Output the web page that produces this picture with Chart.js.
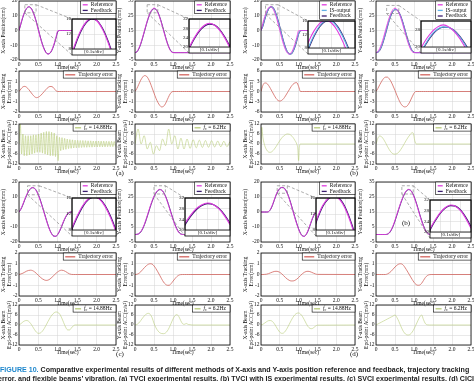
<!DOCTYPE html>
<html>
<head>
<meta charset="utf-8">
<script src="https://cdn.jsdelivr.net/npm/chart.js"></script>
<style>
  body { margin: 0; background: #fff; }
  #fig { position: relative; width: 474px; height: 381px; overflow: hidden; background: #fff; }
  #fig canvas { position: absolute; }
  .plab { position: absolute; width: 20px; text-align: center; font: 7px "Liberation Serif", serif; color: #111; }
  .cap { position: absolute; left: 0; white-space: nowrap; font: bold 8px "Liberation Sans", sans-serif; color: #222; transform-origin: 0 0; }
  .cap b { color: #1d86cc; }
</style>
</head>
<body>
<div id="fig"></div>

<script>
// ---- data ----
const tGrid = [0,0.05,0.1,0.15,0.2,0.25,0.3,0.35,0.4,0.45,0.5,0.55,0.6,0.65,0.7,0.75,0.8,0.85,0.9,0.95,1.0,1.05,1.1,1.15,1.2,1.25,1.3,1.35,1.4,1.45,1.5,2.5];

// (a) TVCI
const aXRef = [0,5.0,9.5,13.0,15.3,16.2,15.4,13.1,9.6,5.1,0.1,-4.9,-9.4,-12.9,-15.2,-16.0,-15.2,-12.9,-9.4,-4.9,-0.2,0,0,0,0,0,0,0,0,0,0,0];
const aXFb  = [0,4.5,9.0,12.6,15.0,16.0,15.5,13.4,10.0,5.7,0.7,-4.4,-8.9,-12.5,-15.0,-15.9,-15.4,-13.3,-9.9,-5.5,-0.8,0,0,0,0,0,0,0,0,0,0,0];
const aYRef = [0,0.7,2.9,6.2,10.4,15.0,19.6,23.8,27.1,29.3,30.2,29.3,27.1,23.8,19.6,15.0,10.4,6.2,2.9,0.7,0,0,0,0,0,0,0,0,0,0,0,0];
const aYFb  = [0,0.5,2.5,5.7,9.9,14.5,19.1,23.3,26.7,28.9,29.8,29.4,27.5,24.3,20.2,15.6,11.0,6.7,3.3,1.0,0.1,0,0,0,0,0,0,0,0,0,0,0];
const aXErr = [0,0.25,0.45,0.5,0.4,0.2,-0.05,-0.3,-0.5,-0.6,-0.55,-0.42,-0.22,0,0.22,0.4,0.49,0.48,0.32,0.08,0,0,0,0,0,0,0,0,0,0,0,0];
const aYErr = [0,0.3,0.7,1.1,1.4,1.55,1.5,1.25,0.85,0.35,-0.15,-0.65,-1.05,-1.35,-1.5,-1.45,-1.2,-0.8,-0.4,-0.1,0,0,0,0,0,0,0,0,0,0,0,0];
const aXBeamDt = 0.0336;   // half period of 14.88 Hz
const aXBeam = [0,12,-6,6,-7,5,-7,5,-6.5,5,-6,5.5,-5.5,5.5,-5,6,-5,6.5,-5.5,7,-6,7.5,-6.5,7.5,-7,7,-7,6.5,-7.5,5,
  -10,4,-4,3.8,-3.5,3.4,-3.2,3,-2.8,2.7,-2.6,2.5,-2.4,2.3,-2.3,2.2,-2.2,2.1,-2.1,2.1,-2.0,2.0,-2.0,1.9,-1.9,
  1.9,-1.9,1.8,-1.8,1.8,-1.8,1.8,-1.7,1.7,-1.7,1.7,-1.7,1.6,-1.6,1.6,-1.6,1.6,-1.6,1.5,-1.5];
const aYBeamDt = 0.0806;   // half period of 6.2 Hz
const aYBeam = [0,9,0,5,-3,1,-6,-1,-4,3,-1,9,0,5,-3,3.5,-3,3,-2.6,2.6,-2.3,2.3,-2.1,2.1,-2,2,-1.8,1.8,-1.7,1.7,-1.6,1.5];

// (b) TVCI with IS
const bXRef = [0,5.0,9.5,13.0,15.3,16.2,15.4,13.1,9.6,5.1,0.1,-4.9,-9.4,-12.9,-15.2,-16.0,-15.2,-12.9,-9.4,-4.9,-0.2,0,0,0,0,0,0,0,0,0,0,0];
const bXIs  = [0,3.2,7.8,11.7,14.6,16.0,15.9,14.2,11.1,7.0,2.2,-2.8,-7.6,-11.6,-14.5,-15.9,-15.9,-14.2,-11.1,-6.9,-2.3,-0.1,0,0,0,0,0,0,0,0,0,0];
const bXFb  = [0,2.8,7.3,11.3,14.3,15.9,16.0,14.5,11.5,7.5,2.7,-2.4,-7.2,-11.2,-14.3,-15.8,-16.0,-14.5,-11.5,-7.3,-2.6,-0.2,0,0,0,0,0,0,0,0,0,0];
const bYRef = [0,0.7,2.9,6.2,10.4,15.0,19.6,23.8,27.1,29.3,30.2,29.3,27.1,23.8,19.6,15.0,10.4,6.2,2.9,0.7,0,0,0,0,0,0,0,0,0,0,0,0];
const bYIs  = [0,0.3,1.8,4.6,8.5,13.0,17.8,22.2,25.9,28.3,29.3,29.0,27.4,24.6,20.8,16.4,11.7,7.3,3.8,1.3,0.2,0,0,0,0,0,0,0,0,0,0,0];
const bYFb  = [0,0.2,1.5,4.2,8.0,12.5,17.3,21.8,25.5,28.0,29.1,29.0,27.6,24.9,21.2,16.8,12.2,7.8,4.2,1.5,0.3,0,0,0,0,0,0,0,0,0,0,0];
const bXErr = [0,1.8,2.5,2.4,1.8,0.9,-0.1,-1.1,-2.0,-2.6,-2.8,-2.6,-2.1,-1.3,-0.4,0.5,1.4,2.1,2.5,2.6,1.5,0,0,0,0,0,0,0,0,0,0,0];
const bYErr = [0,0.9,2.0,3.0,3.8,4.2,4.2,3.7,2.8,1.6,0.3,-1.1,-2.4,-3.5,-4.2,-4.5,-4.4,-3.8,-2.8,-1.6,-0.5,0,0,0,0,0,0,0,0,0,0,0];
const bXBeamT = [0,0.02,0.05,0.1,0.15,0.2,0.25,0.3,0.35,0.4,0.45,0.5,0.55,0.6,0.65,0.7,0.75,0.8,0.85,0.9,0.95,0.98,1.0,1.02,1.05,2.5];
const bXBeam  = [0,10,4,-1,-3.5,-4.8,-5,-4.4,-3.2,-1.6,0.2,2,3.6,4.8,5.6,6,5.9,5.2,4,2.2,0,-3,-10,-2,0,0];
const bYBeamT = [0,0.05,0.1,0.15,0.2,0.25,0.3,0.35,0.4,0.45,0.5,0.55,0.6,0.65,0.7,0.75,0.8,0.85,0.9,0.95,0.98,1.02,1.06,2.5];
const bYBeam  = [0,3.5,4.8,4.3,2.8,0.8,-1.4,-3.4,-5,-5.9,-6.1,-5.8,-4.9,-3.4,-1.6,0.4,2.4,4.2,5.7,6.8,6.5,2,0,0];

// (c) SVCI
const cXRef = [0,2.2,5.2,8.6,11.7,14.2,15.8,16.3,15.7,13.9,11.1,7.5,3.4,-0.9,-5.2,-9.2,-12.6,-15.0,-16.2,-16.1,-14.7,-12.3,-9.2,-6.0,-3.2,-1.2,-0.2,0,0,0,0,0];
const cXFb  = [0,1.9,4.8,8.2,11.3,13.9,15.6,16.2,15.8,14.2,11.5,8.0,3.9,-0.4,-4.7,-8.8,-12.3,-14.8,-16.1,-16.2,-14.9,-12.6,-9.6,-6.4,-3.6,-1.5,-0.3,0,0,0,0,0];
const cYRef = [0,0.1,0.6,1.9,4.1,7.1,10.8,14.8,18.8,22.5,25.6,28.0,29.5,30.1,29.6,28.0,25.4,22.0,18.0,13.9,9.9,6.3,3.4,1.4,0.3,0,0,0,0,0,0,0];
const cYFb  = [0,0.1,0.5,1.6,3.7,6.6,10.2,14.2,18.2,21.9,25.1,27.6,29.2,29.9,29.6,28.2,25.8,22.5,18.6,14.5,10.5,6.9,3.9,1.7,0.5,0.1,0,0,0,0,0,0];
const cXErr = [0,0.05,0.12,0.22,0.32,0.38,0.4,0.36,0.25,0.1,-0.08,-0.25,-0.4,-0.5,-0.55,-0.52,-0.42,-0.26,-0.08,0.1,0.25,0.36,0.4,0.37,0.28,0.16,0.06,0.01,0,0,0,0];
const cYErr = [0,0.02,0.1,0.25,0.45,0.65,0.82,0.95,1.0,0.97,0.8,0.55,0.25,-0.07,-0.4,-0.7,-0.9,-1.0,-1.0,-0.85,-0.62,-0.4,-0.2,-0.07,-0.01,0,0,0,0,0,0,0];
const cXBeam = [0,0.8,1.8,2.5,2.7,2.2,0.9,-0.9,-2.8,-4.3,-5.0,-4.8,-3.8,-2.1,0,2.2,4.3,6.0,7.2,7.8,7.6,6.5,4.3,1.5,-1.2,-2.9,-3.0,-1.8,-0.5,0,0,0];
const cYBeam = [0,0.3,1.2,2.6,4.2,5.6,6.6,7.0,6.4,4.4,1.0,-1.6,-3.4,-4.6,-5.1,-5.2,-4.8,-3.6,-1.6,1.0,3.6,5.5,6.2,5.2,2.8,0.8,0.4,0.9,0.3,0.2,0,0];

// (d) CICI
const dXRef = [0,0,0,0,0.3,1.8,4.5,8.0,11.5,14.2,15.8,16.4,16.1,14.7,12.2,8.8,4.8,0.5,-3.9,-8.0,-11.6,-14.4,-16.0,-16.2,-14.9,-12.3,-8.8,-5.2,-2.2,-0.5,0,0];
const dXFb  = [0,0,0,0,0.2,1.5,4.1,7.6,11.1,13.9,15.6,16.3,16.2,15.0,12.6,9.3,5.3,1.0,-3.4,-7.5,-11.2,-14.1,-15.8,-16.2,-15.1,-12.7,-9.3,-5.7,-2.6,-0.7,-0.1,0];
const dYRef = [0,0,0,0,0,0,0.3,1.3,3.2,6.0,9.5,13.4,17.4,21.2,24.5,27.3,29.2,30.1,29.6,27.9,25.0,21.4,17.3,13.0,8.9,5.3,2.6,0.9,0.1,0,0,0];
const dYFb  = [0,0,0,0,0,0,0.2,1.0,2.8,5.5,9.0,12.9,16.9,20.7,24.1,27.0,29.0,29.9,29.7,28.2,25.5,22.0,17.9,13.6,9.5,5.9,3.0,1.1,0.2,0,0,0];
const dXErr = [0,0,0.01,0.03,0.08,0.15,0.22,0.28,0.3,0.28,0.2,0.07,-0.1,-0.28,-0.43,-0.54,-0.6,-0.6,-0.55,-0.44,-0.28,-0.1,0.07,0.2,0.28,0.3,0.27,0.2,0.12,0.05,0.01,0];
const dYErr = [0,0,0,0,0,0,0.05,0.15,0.3,0.5,0.7,0.86,0.97,1.0,0.93,0.72,0.45,0.15,-0.15,-0.45,-0.72,-0.92,-1.0,-0.98,-0.82,-0.55,-0.28,-0.1,-0.02,0,0,0];
const dXBeam = [0,0.4,1.2,2.0,2.6,2.7,2.2,0.9,-0.9,-2.8,-4.3,-5.0,-4.8,-3.6,-1.8,0.4,2.6,4.6,6.1,7.0,7.2,6.6,5.2,3.2,1.0,-0.9,-2.0,-2.2,-1.6,-0.7,-0.1,0];
const dYBeam = [0,0.6,1.2,1.8,2.4,3.0,3.6,4.2,4.8,5.4,6.0,4.5,2.2,-0.5,-3.0,-4.8,-5.8,-6.0,-5.6,-4.3,-2.4,0,2.5,4.8,6.0,3.2,0.8,0.1,0,0,0,0];

const timeTicks = [0, 0.5, 1, 1.5, 2, 2.5];

// ---- layout ----
const colL = [19, 135, 261, 376], colR = [116, 230, 355, 471];
const rowT = [[1, 71, 124], [182, 253, 305]];
const rowB = [[60, 112, 164], [242, 296, 345]];

const REF = '#e03be0', FB = '#3a1d6e', ISC = '#63b0e6', ERR = '#d2645e', BEAM = '#b9cc7a';
const FONT = { family: '"Liberation Serif", serif', size: 5.5 };
const GRID = '#d2d2d2';
const fig = document.getElementById('fig');

const pts = (t, v) => v.map((y, i) => ({ x: t[i], y }));
const evenPts = (dt, v) => v.map((y, i) => ({ x: i * dt, y }));
function line(label, data, color, w) {
  return { label, data, borderColor: color, borderWidth: w || 0.9, pointRadius: 0,
           fill: false, cubicInterpolationMode: 'monotone' };
}

function drawLabel(c, text, x, y) {
  const parts = text.split('_');
  if (parts.length === 1) { c.fillText(text, x, y); return; }
  const f = c.font;
  c.font = 'italic ' + f; c.fillText(parts[0], x, y); x += c.measureText(parts[0]).width;
  c.font = f.replace(/[\d.]+px/, '4px'); c.fillText(parts[1][0], x, y + 1.3); x += c.measureText(parts[1][0]).width;
  c.font = f; c.fillText(parts[1].slice(1), x, y);
}
function labelW(c, text) {
  return c.measureText(text.replace('_', '')).width;
}

const framePlugin = {
  id: 'frame',
  beforeDraw(chart, args, o) {
    if (!o.fill) return;
    const a = chart.chartArea, c = chart.ctx;
    c.save(); c.fillStyle = '#fff';
    c.fillRect(a.left, a.top, a.right - a.left, a.bottom - a.top + (o.extra || 0));
    c.restore();
  },
  afterDatasetsDraw(chart, args, o) {
    const a = chart.chartArea, c = chart.ctx;
    c.save(); c.strokeStyle = '#000'; c.lineWidth = 0.8;
    c.strokeRect(a.left, a.top, a.right - a.left, a.bottom - a.top);
    if (o.extra) c.strokeRect(a.left, a.top, a.right - a.left, a.bottom - a.top + o.extra);
    c.restore();
  }
};

const legendPlugin = {
  id: 'boxLegend',
  afterDraw(chart, args, o) {
    if (!o.show) return;
    const c = chart.ctx, a = chart.chartArea;
    const items = chart.data.datasets;
    c.save();
    c.font = '5.5px "Liberation Serif"';
    const rowH = 5.6;
    const tw = Math.max(...items.map(d => labelW(c, d.label)));
    const w = 2 + o.sample + 3 + tw + 3, h = rowH * items.length + 1.5;
    const x0 = a.right - w, y0 = a.top;
    c.fillStyle = '#fff'; c.fillRect(x0, y0, w, h);
    c.strokeStyle = '#000'; c.lineWidth = 0.6; c.strokeRect(x0, y0, w, h);
    items.forEach((d, i) => {
      const y = y0 + 1 + rowH * (i + 0.5);
      c.strokeStyle = d.borderColor; c.lineWidth = 1.3;
      c.beginPath(); c.moveTo(x0 + 2, y); c.lineTo(x0 + 2 + o.sample, y); c.stroke();
      c.fillStyle = '#111'; c.textBaseline = 'middle';
      drawLabel(c, d.label, x0 + 2 + o.sample + 3, y);
    });
    c.restore();
  }
};

function noPad(s) { s.paddingLeft = 0; s.paddingRight = 0; s.paddingTop = 0; s.paddingBottom = 0; }

function subplot(col, grp, row, yTitle, yMin, yMax, yStep, datasets, sample) {
  const L = colL[col], R = colR[col], T = rowT[grp][row], B = rowB[grp][row];
  const yw = 19, xh = 11, pt = Math.min(T, 4), pr = Math.min(4, 474 - R);
  const cv = document.createElement('canvas');
  cv.width = R - L + yw + pr; cv.height = B - T + pt + xh;
  cv.style.left = (L - yw) + 'px'; cv.style.top = (T - pt) + 'px'; cv.style.zIndex = 1;
  fig.appendChild(cv);
  return new Chart(cv, {
    type: 'line',
    data: { datasets },
    options: {
      animation: false, responsive: false, devicePixelRatio: 1,
      layout: { padding: { top: pt, right: pr, left: 0, bottom: 0 } },
      plugins: { legend: { display: false }, tooltip: { enabled: false },
                 boxLegend: { show: true, sample }, frame: {} },
      scales: {
        x: { type: 'linear', min: 0, max: 2.5,
             afterBuildTicks: s => { s.ticks = timeTicks.map(v => ({ value: v })); },
             ticks: { font: FONT, color: '#111', padding: 1, maxRotation: 0, autoSkip: false },
             grid: { color: GRID, lineWidth: 0.5, drawTicks: false },
             border: { display: false },
             title: { display: true, text: 'Time(sec)', font: FONT, color: '#111', padding: 0 },
             afterFit: s => { s.height = xh; noPad(s); } },
        y: { min: yMin, max: yMax,
             ticks: { stepSize: yStep, font: FONT, color: '#111', padding: 1.5 },
             grid: { color: GRID, lineWidth: 0.5, drawTicks: false },
             border: { display: false },
             title: { display: true, text: yTitle, font: FONT, color: '#111', padding: 0 },
             afterFit: s => { s.width = yw; noPad(s); } }
      }
    },
    plugins: [framePlugin, legendPlugin]
  });
}

const insets = [];
function inset(main, rect, tMin, tMax, yMin, yMax, datasets, zoom) {
  const [x0, y0, x1, y1] = rect;
  const yw = 9, th = 6, pt = 3;
  const cv = document.createElement('canvas');
  cv.width = x1 - x0 + yw + 1; cv.height = y1 - y0 + pt + 1;
  cv.style.left = (x0 - yw) + 'px'; cv.style.top = (y0 - pt) + 'px'; cv.style.zIndex = 3;
  fig.appendChild(cv);
  const ch = new Chart(cv, {
    type: 'line',
    data: { datasets: datasets.map(d => Object.assign({}, d, { borderWidth: 1.1 })) },
    options: {
      animation: false, responsive: false, devicePixelRatio: 1,
      layout: { padding: { top: pt, right: 1, left: 0, bottom: 1 } },
      plugins: { legend: { display: false }, tooltip: { enabled: false },
                 boxLegend: { show: false }, frame: { fill: true, extra: th } },
      scales: {
        x: { type: 'linear', min: tMin, max: tMax,
             ticks: { stepSize: 0.1, display: false },
             grid: { color: GRID, lineWidth: 0.5, drawTicks: false },
             border: { display: false },
             title: { display: true, text: '[0.1s/div]', font: { family: FONT.family, size: 5 }, color: '#111', padding: 0.5 },
             afterFit: s => { s.height = th; noPad(s); } },
        y: { min: yMin, max: yMax,
             ticks: { stepSize: 4, font: { family: FONT.family, size: 5 }, color: '#111', padding: 1 },
             grid: { color: GRID, lineWidth: 0.5, drawTicks: false },
             border: { display: false },
             afterFit: s => { s.width = yw; noPad(s); } }
      }
    },
    plugins: [framePlugin, legendPlugin]
  });
  insets.push({ main, ch, zoom });
}

// ---- build the four panels ----
const panels = [
  { col: 0, grp: 0, X: [['Reference', aXRef, REF], ['Feedback', aXFb, FB]], Y: [['Reference', aYRef, REF], ['Feedback', aYFb, FB]],
    xErr: aXErr, yErr: aYErr, eMax: 2, eStep: 1,
    xBeam: evenPts(aXBeamDt, aXBeam), yBeam: evenPts(aYBeamDt, aYBeam), bMax: 12, bStep: 6,
    xIn: [[72, 19, 116, 55], 0.07, 0.47, [0.15, 0.44, 12, 17.5]], yIn: [[189, 19, 230, 53], 0.3, 0.7, [0.32, 0.6, 27, 32.5]] },
  { col: 2, grp: 0, X: [['Reference', bXRef, REF], ['IS-output', bXIs, ISC], ['Feedback', bXFb, FB]],
    Y: [['Reference', bYRef, REF], ['IS-output', bYIs, ISC], ['Feedback', bYFb, FB]],
    xErr: bXErr, yErr: bYErr, eMax: 6, eStep: 3,
    xBeam: pts(bXBeamT, bXBeam), yBeam: pts(bYBeamT, bYBeam), bMax: 12, bStep: 6,
    xIn: [[308, 21, 355, 54], 0.1, 0.5, [0.12, 0.45, 11, 17.5]], yIn: [[421, 21, 471, 53], 0.3, 0.75, [0.28, 0.6, 26.5, 32]] },
  { col: 0, grp: 1, X: [['Reference', cXRef, REF], ['Feedback', cXFb, FB]], Y: [['Reference', cYRef, REF], ['Feedback', cYFb, FB]],
    xErr: cXErr, yErr: cYErr, eMax: 2, eStep: 1,
    xBeam: pts(tGrid, cXBeam), yBeam: pts(tGrid, cYBeam), bMax: 12, bStep: 6,
    xIn: [[72, 198, 116, 236], 0.15, 0.55, [0.22, 0.52, 11.5, 17.5]], yIn: [[185, 198, 230, 236], 0.45, 0.85, [0.5, 0.8, 27, 32.5]] },
  { col: 2, grp: 1, X: [['Reference', dXRef, REF], ['Feedback', dXFb, FB]], Y: [['Reference', dYRef, REF], ['Feedback', dYFb, FB]],
    xErr: dXErr, yErr: dYErr, eMax: 2, eStep: 1,
    xBeam: pts(tGrid, dXBeam), yBeam: pts(tGrid, dYBeam), bMax: 12, bStep: 6,
    xIn: [[316, 198, 355, 236], 0.38, 0.78, [0.43, 0.7, 12.5, 17.5]], yIn: [[430, 200, 471, 238], 0.65, 1.05, [0.68, 0.98, 27, 32.5]] }
];

panels.forEach(p => {
  ['X', 'Y'].forEach((ax, k) => {
    const col = p.col + k;
    const posSets = p[ax].map(([lab, v, c]) => line(lab, pts(tGrid, v), c, 0.9));
    const pos = k === 0
      ? subplot(col, p.grp, 0, 'X-axis Position(mm)', -20, 20, 10, posSets, 5)
      : subplot(col, p.grp, 0, 'Y-axis Position(mm)', -5, 35, 10, posSets, 5);
    const inn = k === 0 ? p.xIn : p.yIn;
    const [iy0, iy1] = k === 0 ? [8, 16] : [20, 32];
    inset(pos, inn[0], inn[1], inn[2], iy0, iy1, posSets, inn[3]);

    subplot(col, p.grp, 1, [ax + '-axis Tracking', 'Error(mm)'], -p.eMax, p.eMax, p.eStep,
      [line('Trajectory error', pts(tGrid, k === 0 ? p.xErr : p.yErr), ERR, 0.8)], 10);

    subplot(col, p.grp, 2, [ax + '-axis Beam', 'End-point ACC(m/s\u00b2)'], -p.bMax, p.bMax, p.bStep,
      [line(k === 0 ? 'f_c = 14.88Hz' : 'f_c = 6.2Hz', k === 0 ? p.xBeam : p.yBeam, BEAM, 0.6)], 6);
  });
});

// ---- dashed zoom boxes and connector lines ----
const ov = document.createElement('canvas');
ov.width = 474; ov.height = 381; ov.style.left = '0px'; ov.style.top = '0px'; ov.style.zIndex = 2;
fig.appendChild(ov);
const oc = ov.getContext('2d');
oc.strokeStyle = '#8a8a8a'; oc.lineWidth = 0.7; oc.setLineDash([3, 2]);
insets.forEach(({ main, ch, zoom }) => {
  const mx = main.canvas.offsetLeft, my = main.canvas.offsetTop;
  const [t0, t1, v0, v1] = zoom;
  const px0 = mx + main.scales.x.getPixelForValue(t0), px1 = mx + main.scales.x.getPixelForValue(t1);
  const py0 = my + main.scales.y.getPixelForValue(v1), py1 = my + main.scales.y.getPixelForValue(v0);
  oc.strokeRect(px0, py0, px1 - px0, py1 - py0);
  const ix = ch.canvas.offsetLeft + ch.chartArea.left, iy = ch.canvas.offsetTop + ch.chartArea.top;
  const ib = ch.canvas.offsetTop + ch.chartArea.bottom + 6;
  oc.beginPath();
  oc.moveTo(px1, py0); oc.lineTo(ix, iy);
  oc.moveTo(px0, py1); oc.lineTo(ix, ib);
  oc.stroke();
});

// ---- panel labels and caption ----
function text(cls, html, x, y) {
  const d = document.createElement('div');
  d.className = cls; d.innerHTML = html; d.style.left = x + 'px'; d.style.top = y + 'px'; d.style.zIndex = 4;
  fig.appendChild(d); return d;
}
text('plab', '(a)', 110, 169);
text('plab', '(b)', 344, 169);
text('plab', '(c)', 110, 350);
text('plab', '(d)', 344, 350);
text('plab', '(b)', 396, 219);

const cap1 = text('cap', '<b>FIGURE 10.</b> Comparative experimental results of different methods of X-axis and Y-axis position reference and feedback, trajectory tracking', 0, 365);
const cap2 = text('cap', 'error, and flexible beams\u2019 vibration. (a) TVCI experimental results. (b) TVCI with IS experimental results. (c) SVCI experimental results. (d) CICI', -2, 374);
const k = 469 / cap1.scrollWidth;
cap1.style.transform = `scaleX(${k})`;
cap2.style.transform = `scaleX(${k})`;
</script>
</body>
</html>
